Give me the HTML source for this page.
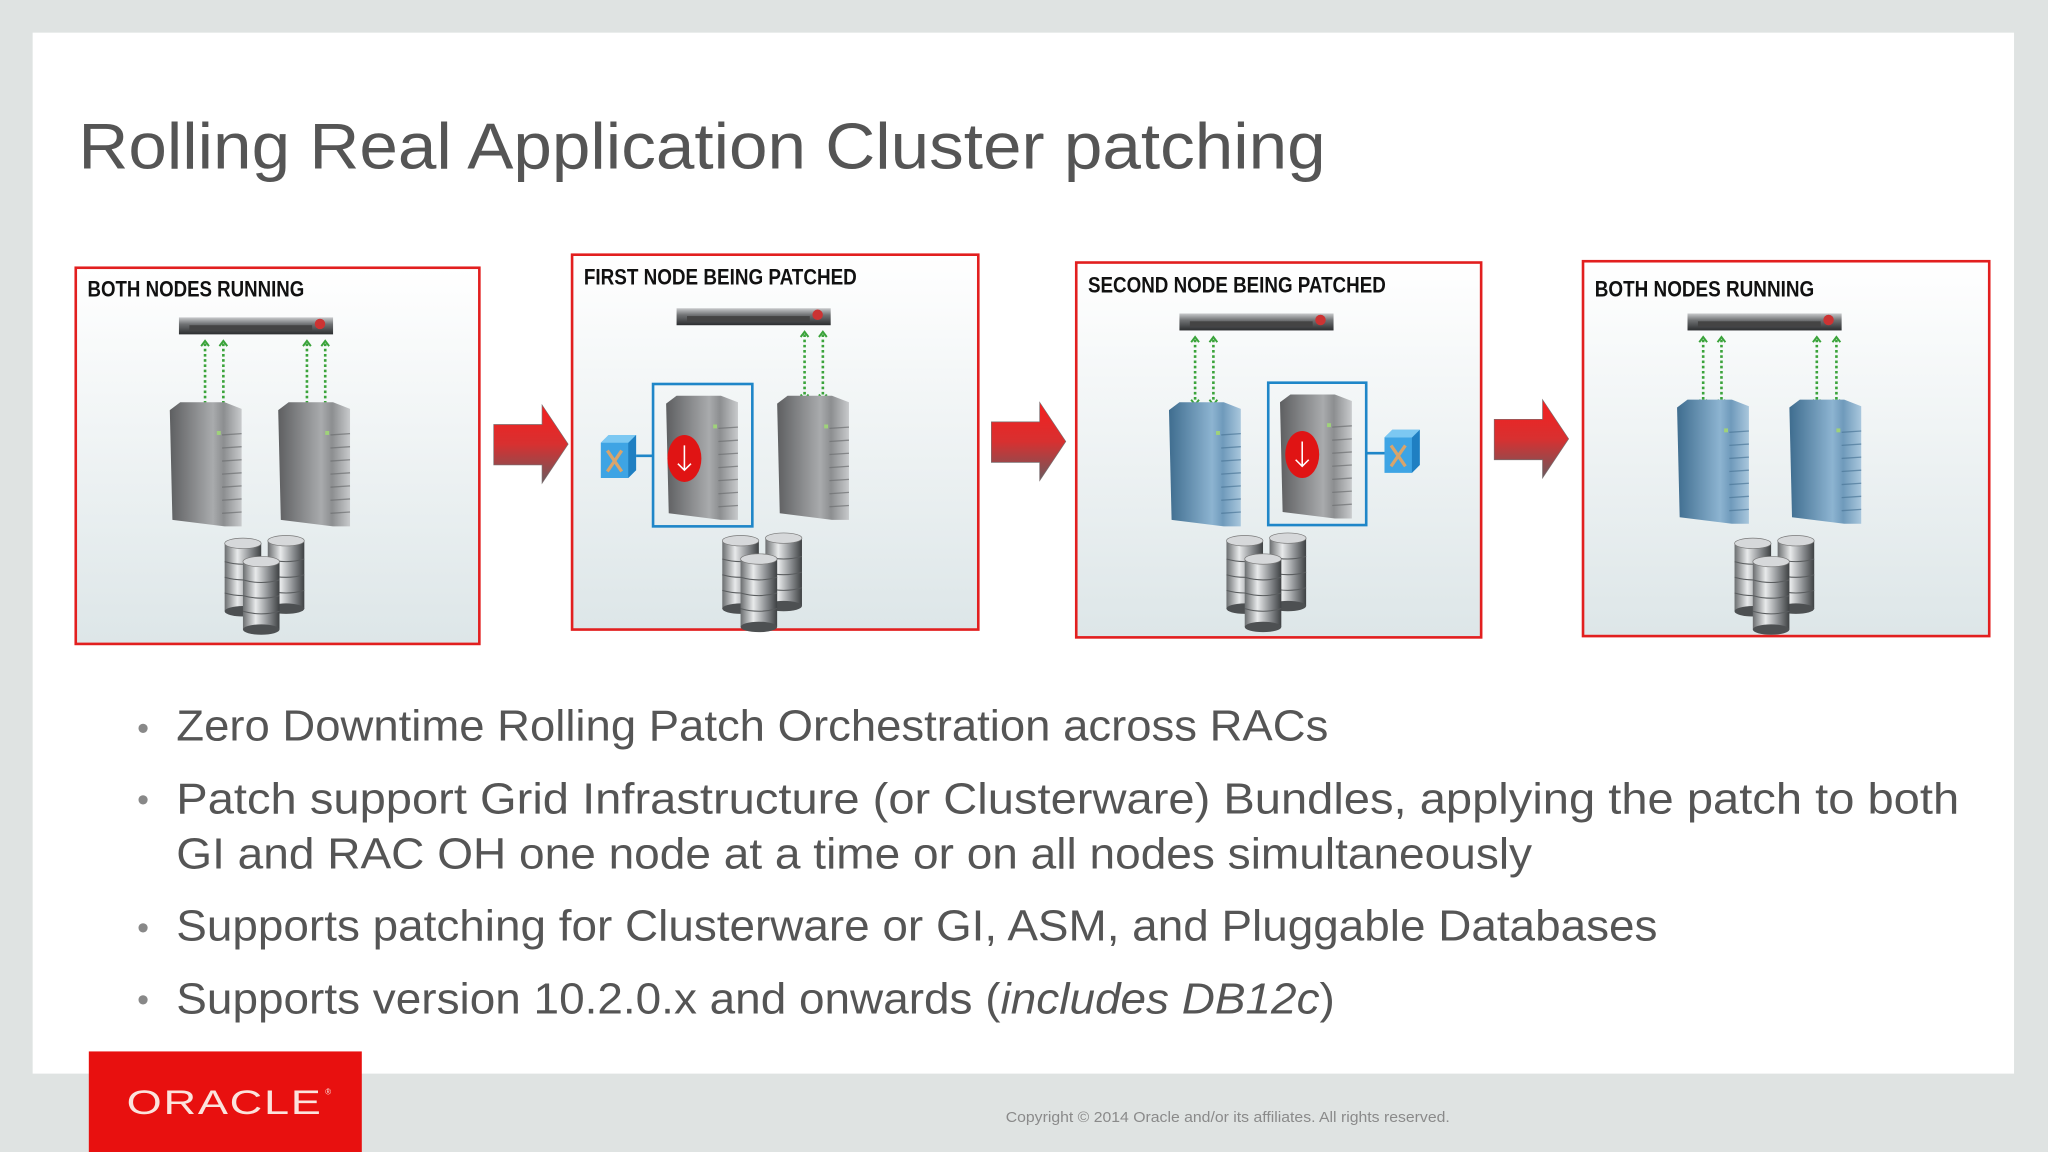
<!DOCTYPE html>
<html><head><meta charset="utf-8"><style>
html,body{margin:0;padding:0;width:2048px;height:1152px;overflow:hidden;background:#dfe3e2}
svg{display:block}
</style></head><body>
<svg width="2048" height="1152" viewBox="0 0 1568 882" xmlns="http://www.w3.org/2000/svg">
<defs>
<linearGradient id="pbg" x1="0" y1="0" x2="0" y2="1"><stop offset="0" stop-color="#ffffff"/><stop offset="1" stop-color="#dde6e8"/></linearGradient>
<linearGradient id="arr" x1="0" y1="0" x2="0" y2="1"><stop offset="0" stop-color="#f41f1f"/><stop offset="0.5" stop-color="#d83030"/><stop offset="1" stop-color="#6a5a5e"/></linearGradient>
<linearGradient id="sg" x1="0" y1="0" x2="1" y2="0"><stop offset="0" stop-color="#5e5f61"/><stop offset="0.6" stop-color="#a9abad"/><stop offset="0.75" stop-color="#8c8e90"/><stop offset="1" stop-color="#c8cacc"/></linearGradient>
<linearGradient id="sb" x1="0" y1="0" x2="1" y2="0"><stop offset="0" stop-color="#3f6d8f"/><stop offset="0.6" stop-color="#8db4d1"/><stop offset="0.75" stop-color="#6f9abb"/><stop offset="1" stop-color="#a9c7dd"/></linearGradient>
<linearGradient id="cy" x1="0" y1="0" x2="1" y2="0"><stop offset="0" stop-color="#6b6e70"/><stop offset="0.35" stop-color="#e8eaeb"/><stop offset="0.7" stop-color="#8a8d90"/><stop offset="1" stop-color="#3e4143"/></linearGradient>
<linearGradient id="sw" x1="0" y1="0" x2="0" y2="1"><stop offset="0" stop-color="#c9cbcd"/><stop offset="0.4" stop-color="#707274"/><stop offset="1" stop-color="#2b2d2f"/></linearGradient>
<g id="srv">
<path d="M0,6 L8,0 L42,0 L55,5 L55,95 L42,95 L2,90 Z" fill="url(#sg)"/>
<g stroke="#6e7072" stroke-width="1" opacity="0.7"><line x1="40" y1="25" x2="55" y2="24"/><line x1="40" y1="35" x2="55" y2="34"/><line x1="40" y1="45" x2="55" y2="44"/><line x1="40" y1="55" x2="55" y2="54"/><line x1="40" y1="65" x2="55" y2="64"/><line x1="40" y1="75" x2="55" y2="74"/><line x1="40" y1="85" x2="55" y2="84"/></g>
<rect x="36" y="22" width="3" height="3" fill="#9fd27a"/>
</g>
<g id="srvb">
<path d="M0,6 L8,0 L42,0 L55,5 L55,95 L42,95 L2,90 Z" fill="url(#sb)"/>
<g stroke="#4d7899" stroke-width="1" opacity="0.7"><line x1="40" y1="25" x2="55" y2="24"/><line x1="40" y1="35" x2="55" y2="34"/><line x1="40" y1="45" x2="55" y2="44"/><line x1="40" y1="55" x2="55" y2="54"/><line x1="40" y1="65" x2="55" y2="64"/><line x1="40" y1="75" x2="55" y2="74"/><line x1="40" y1="85" x2="55" y2="84"/></g>
<rect x="36" y="22" width="3" height="3" fill="#9fd27a"/>
</g>
<g id="cyl">
<rect x="0" y="4" width="28" height="52" fill="url(#cy)"/>
<ellipse cx="14" cy="56" rx="14" ry="4" fill="#4d5052"/>
<ellipse cx="14" cy="4" rx="14" ry="4" fill="#d6d8da" stroke="#777" stroke-width="0.5"/>
<g stroke="#5a5d5f" stroke-width="0.8" fill="none"><path d="M0,18 Q14,22 28,18"/><path d="M0,30 Q14,34 28,30"/><path d="M0,42 Q14,46 28,42"/></g>
</g>
<g id="db">
<use href="#cyl" x="0" y="0"/>
<use href="#cyl" x="33" y="-2"/>
<use href="#cyl" x="14" y="14"/>
</g>
<g id="sw1">
<rect x="0" y="0" width="118" height="13" fill="url(#sw)"/>
<rect x="8" y="6" width="94" height="4" fill="#444"/>
<circle cx="108" cy="5" r="4" fill="#c33"/>
</g>
<g id="gl">
<line x1="0" y1="4" x2="0" y2="52" stroke="#3aa33a" stroke-width="2" stroke-dasharray="2,2"/>
<path d="M-3,6 L0,2 L3,6 M-3,50 L0,54 L3,50" stroke="#3aa33a" stroke-width="1.5" fill="none"/>
</g>
<g id="cube">
<path d="M0,6 L6,0 L27,0 L27,27 L21,33 L0,33 Z" fill="#3ea4e4"/>
<path d="M21,6 L27,0 L27,27 L21,33 Z" fill="#1f7fc2"/>
<path d="M0,6 L6,0 L27,0 L21,6 Z" fill="#7cc8f2"/>
<path d="M5,12 L16,28 M16,12 L5,28" stroke="#d9a46b" stroke-width="2.5"/>
</g>
<g id="arrow">
<path d="M0,15 L37,15 L37,0 L57,30 L37,60 L37,46 L0,46 Z" fill="url(#arr)" stroke="#7a6f70" stroke-width="0.5"/>
</g>
</defs>

<rect x="25" y="25" width="1517" height="797" fill="#ffffff"/>
<text x="60" y="129" font-family="Liberation Sans, sans-serif" font-size="50" fill="#555555" textLength="955" lengthAdjust="spacingAndGlyphs">Rolling Real Application Cluster patching</text>

<!-- Panel 1 -->
<rect x="58" y="205" width="309" height="288" fill="url(#pbg)" stroke="#e21f1f" stroke-width="2"/>
<text x="67" y="227" font-family="Liberation Sans Narrow, Liberation Sans, sans-serif" font-weight="bold" font-size="17" fill="#111" textLength="166" lengthAdjust="spacingAndGlyphs">BOTH NODES RUNNING</text>
<use href="#sw1" x="137" y="243"/>
<use href="#gl" x="157" y="259"/><use href="#gl" x="171" y="259"/>
<use href="#gl" x="235" y="259"/><use href="#gl" x="249" y="259"/>
<use href="#srv" x="130" y="308"/><use href="#srv" x="213" y="308"/>
<use href="#db" x="172" y="412"/>

<use href="#arrow" x="378" y="310"/>

<!-- Panel 2 -->
<rect x="438" y="195" width="311" height="287" fill="url(#pbg)" stroke="#e21f1f" stroke-width="2"/>
<text x="447" y="218" font-family="Liberation Sans Narrow, Liberation Sans, sans-serif" font-weight="bold" font-size="17" fill="#111" textLength="209" lengthAdjust="spacingAndGlyphs">FIRST NODE BEING PATCHED</text>
<use href="#sw1" x="518" y="236"/>
<use href="#gl" x="616" y="252"/><use href="#gl" x="630" y="252"/>
<rect x="500" y="294" width="76" height="109" fill="none" stroke="#1f86c8" stroke-width="2"/>
<use href="#srv" x="510" y="303"/>
<ellipse cx="524" cy="351" rx="13" ry="18" fill="#e01414"/>
<path d="M524,341 L524,360 M519,355 L524,360 L529,355" stroke="#fff" stroke-width="1.2" fill="none"/>
<use href="#srv" x="595" y="303"/>
<line x1="487" y1="349" x2="500" y2="349" stroke="#1f86c8" stroke-width="2"/>
<use href="#cube" x="460" y="333"/>
<use href="#db" x="553" y="410"/>

<use href="#arrow" x="759" y="308"/>

<!-- Panel 3 -->
<rect x="824" y="201" width="310" height="287" fill="url(#pbg)" stroke="#e21f1f" stroke-width="2"/>
<text x="833" y="224" font-family="Liberation Sans Narrow, Liberation Sans, sans-serif" font-weight="bold" font-size="17" fill="#111" textLength="228" lengthAdjust="spacingAndGlyphs">SECOND NODE BEING PATCHED</text>
<use href="#sw1" x="903" y="240"/>
<use href="#gl" x="915" y="256"/><use href="#gl" x="929" y="256"/>
<use href="#srvb" x="895" y="308"/>
<rect x="971" y="293" width="75" height="109" fill="none" stroke="#1f86c8" stroke-width="2"/>
<use href="#srv" x="980" y="302"/>
<ellipse cx="997" cy="348" rx="13" ry="18" fill="#e01414"/>
<path d="M997,338 L997,357 M992,352 L997,357 L1002,352" stroke="#fff" stroke-width="1.2" fill="none"/>
<line x1="1046" y1="347" x2="1060" y2="347" stroke="#1f86c8" stroke-width="2"/>
<use href="#cube" x="1060" y="329"/>
<use href="#db" x="939" y="410"/>

<use href="#arrow" x="1144" y="306"/>

<!-- Panel 4 -->
<rect x="1212" y="200" width="311" height="287" fill="url(#pbg)" stroke="#e21f1f" stroke-width="2"/>
<text x="1221" y="227" font-family="Liberation Sans Narrow, Liberation Sans, sans-serif" font-weight="bold" font-size="17" fill="#111" textLength="168" lengthAdjust="spacingAndGlyphs">BOTH NODES RUNNING</text>
<use href="#sw1" x="1292" y="240"/>
<use href="#gl" x="1304" y="256"/><use href="#gl" x="1318" y="256"/>
<use href="#gl" x="1391" y="256"/><use href="#gl" x="1406" y="256"/>
<use href="#srvb" x="1284" y="306"/><use href="#srvb" x="1370" y="306"/>
<use href="#db" x="1328" y="412"/>

<!-- Bullets -->
<g font-family="Liberation Sans, sans-serif" font-size="33" fill="#555555">
<text x="105" y="566" font-size="26" fill="#888">•</text>
<text x="135" y="567" textLength="882" lengthAdjust="spacingAndGlyphs">Zero Downtime Rolling Patch Orchestration across RACs</text>
<text x="105" y="621" font-size="26" fill="#888">•</text>
<text x="135" y="623" textLength="1365" lengthAdjust="spacingAndGlyphs">Patch support Grid Infrastructure (or Clusterware) Bundles, applying the patch to both</text>
<text x="135" y="665" textLength="1038" lengthAdjust="spacingAndGlyphs">GI and RAC OH one node at a time or on all nodes simultaneously</text>
<text x="105" y="719" font-size="26" fill="#888">•</text>
<text x="135" y="720" textLength="1134" lengthAdjust="spacingAndGlyphs">Supports patching for Clusterware or GI, ASM, and Pluggable Databases</text>
<text x="105" y="774" font-size="26" fill="#888">•</text>
<text x="135" y="776" textLength="887" lengthAdjust="spacingAndGlyphs">Supports version 10.2.0.x and onwards (<tspan font-style="italic">includes DB12c</tspan>)</text>
</g>

<!-- Footer -->
<rect x="68" y="805" width="209" height="77" fill="#e8100f"/>
<text x="97" y="853" font-family="Liberation Sans, sans-serif" font-size="26" fill="#fbe3dd" textLength="150" lengthAdjust="spacingAndGlyphs" letter-spacing="1">ORACLE</text>
<text x="249" y="838" font-family="Liberation Sans, sans-serif" font-size="6" fill="#fbe3dd">®</text>
<text x="770" y="859" font-family="Liberation Sans, sans-serif" font-size="11" fill="#8a8a8a" textLength="340" lengthAdjust="spacingAndGlyphs">Copyright © 2014 Oracle and/or its affiliates. All rights reserved.</text>
</svg>
</body></html>
